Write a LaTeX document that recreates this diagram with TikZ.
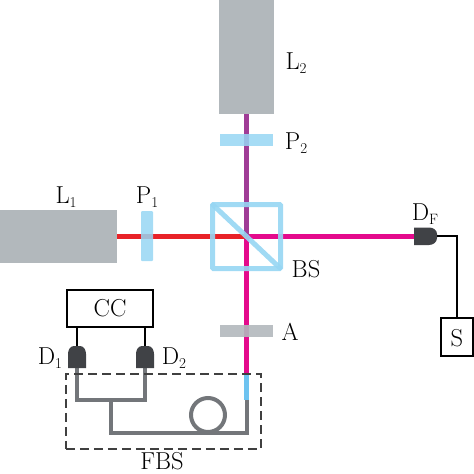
\documentclass[tikz,border=0pt]{standalone}
\usetikzlibrary{calc}
\definecolor{lasergray}{RGB}{178,184,188}
\definecolor{optblue}{RGB}{150,214,243}
\definecolor{redbeam}{RGB}{232,34,40}
\definecolor{pinkbeam}{RGB}{228,10,140}
\definecolor{purplebeam}{RGB}{160,60,150}
\definecolor{fibre}{RGB}{115,118,122}
\definecolor{fibreblue}{RGB}{110,195,240}
\definecolor{det}{RGB}{64,66,70}
\newcommand{\sbs}[1]{\raisebox{-4pt}{\fontsize{15}{16}\selectfont #1}}
\tikzset{
  x=1pt,y=-1pt,
  lab/.style={inner sep=0pt,font=\fontsize{24.5}{28}\selectfont},
  beam/.style={line width=5pt},
  fibreline/.style={draw=fibre,line width=4pt,line join=miter},
  wire/.style={draw=black,line width=2.2pt},
  box/.style={draw=black,line width=2.2pt,fill=white,inner sep=0pt},
  optic/.style={fill=optblue,fill opacity=.85,draw=none,inner sep=0pt},
}
\newcommand{\detshape}[3]{% left, top, name
  \fill[det] (#1,#2+22) -- (#1,#2+8) to[out=90,in=180] (#1+6,#2) -- (#1+12,#2) to[out=0,in=90] (#1+18,#2+8) -- (#1+18,#2+22) -- cycle;
  \coordinate (#3) at (#1+9,#2);
}
\begin{document}
\begin{tikzpicture}
\useasboundingbox (0,0) rectangle (474,474);
% lasers
\node[fill=lasergray,minimum width=117pt,minimum height=53pt,inner sep=0pt,anchor=north west] (L1) at (0,210) {};
\node[fill=lasergray,minimum width=55pt,minimum height=114pt,inner sep=0pt,anchor=north west] (L2) at (219,0) {};
% beam centre and coordinates
\coordinate (C) at (246.5,236);
\coordinate (DFin) at (414,236);
\coordinate (Bend) at (246.5,373);
\coordinate (Bl) at (246.5,400);
\coordinate (Bb) at (246.5,432.5);
\coordinate (J) at (111,432.5);
% beams
\draw[beam,draw=pinkbeam] (C) -- (DFin);
\draw[beam,draw=pinkbeam] (C) -- (Bend);
\draw[beam,draw=redbeam] (L1.east |- C) -- (C);
\draw[beam,draw=purplebeam] (L2.south -| C) -- (C);
% fibre
\draw[beam,draw=fibreblue] (Bend) -- (Bl);
\draw[fibreline] (Bl) -- (Bb) -- (J) -- (111,400);
\draw[fibreline] (77,368) -- (77,400) -- (145,400) -- (145,368);
\node[circle,draw=fibre,line width=4pt,minimum size=34pt,inner sep=0pt] (loop) at (208,415) {};
% attenuator and polarisers
\node[fill=lasergray,fill opacity=.9,minimum width=53pt,minimum height=12pt,inner sep=0pt] (A) at (246.5,331) {};
\node[optic,minimum width=12pt,minimum height=50pt,rounded corners=1pt] (P1) at (147,236) {};
\node[optic,minimum width=53pt,minimum height=12pt] (P2) at (246.5,140) {};
% beam splitter
\node[draw=optblue,draw opacity=.9,line width=5pt,rounded corners=1pt,outer sep=0pt,minimum width=68pt,minimum height=64pt,inner sep=0pt] (BS) at (246.5,236.5) {};
\draw[draw=optblue,draw opacity=.9,line width=5pt,line cap=round,shorten >=1pt,shorten <=1pt] (BS.north west) -- (BS.south east);
% counting electronics
\node[box,minimum width=86pt,minimum height=37pt] (CC) at (110,308.5) {};
\node[box,minimum width=32pt,minimum height=38pt] (S) at (457,337) {};
\detshape{68}{346}{Da}
\detshape{136}{346}{Db}
\draw[wire] (Da) -- (Da |- CC.south);
\draw[wire] (Db) -- (Db |- CC.south);
% D_F
\fill[det] (414,227.5) -- (429,227.5) to[out=0,in=90] (437,234) -- (437,238) to[out=-90,in=0] (429,245) -- (414,245) -- cycle;
\coordinate (DFout) at (437,236);
\draw[wire] (DFout) -| (S.north);
% dashed box
\node[draw=black!75,dash pattern=on 9pt off 5pt,line width=1.8pt,minimum width=195pt,minimum height=75pt,inner sep=0pt,anchor=north west] (FBS) at (65,373) {};
% labels
\node[lab] (tL1) at (66,197) {L\sbs{1}};
\node[lab] (tP1) at (147,197) {P\sbs{1}};
\node[lab] (tL2) at (296,63) {L\sbs{2}};
\node[lab] (tP2) at (296,143) {P\sbs{2}};
\node[lab] (tBS) at (306,269) {BS};
\node[lab] (tA) at (290,332) {A};
\node[lab] (tCC) at (110,308) {CC};
\node[lab] (tD1) at (50,358) {D\sbs{1}};
\node[lab] (tD2) at (174,358) {D\sbs{2}};
\node[lab] (tDF) at (425,214) {D\sbs{F}};
\node[lab] (tS) at (457,338) {S};
\node[lab] (tFBS) at (162,461) {FBS};
\end{tikzpicture}
\end{document}
